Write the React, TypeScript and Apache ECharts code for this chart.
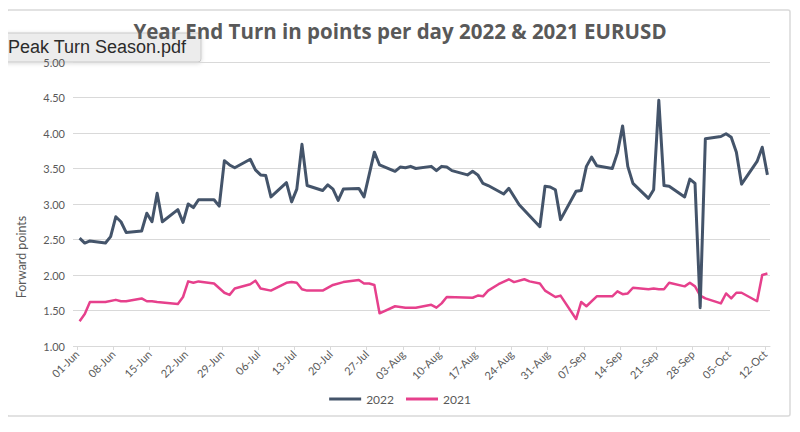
import React, { useEffect, useRef } from "react";
import * as echarts from "echarts";

// Axis starts on 1 June; positions are days since then.
const AXIS_START = "06-01";
const MONTHS = ["Jan", "Feb", "Mar", "Apr", "May", "Jun", "Jul", "Aug", "Sep", "Oct", "Nov", "Dec"];

const TITLE = "Year End Turn in points per day 2022 & 2021 EURUSD";
const Y_NAME = "Forward points";
const SERIES_NAMES = ["2022", "2021"];

const dates2022 = [
  "06-01", "06-02", "06-03", "06-06", "06-07", "06-08", "06-09", "06-10", "06-13", "06-14",
  "06-15", "06-16", "06-17", "06-20", "06-21", "06-22", "06-23", "06-24", "06-27", "06-28",
  "06-29", "06-30", "07-01", "07-04", "07-05", "07-06", "07-07", "07-08", "07-11", "07-12",
  "07-13", "07-14", "07-15", "07-18", "07-19", "07-20", "07-21", "07-22", "07-25", "07-26",
  "07-28", "07-29", "08-01", "08-02", "08-03", "08-04", "08-05", "08-08", "08-09", "08-10",
  "08-11", "08-12", "08-15", "08-16", "08-17", "08-18", "08-19", "08-22", "08-23", "08-25",
  "08-29", "08-30", "08-31", "09-01", "09-02", "09-05", "09-06", "09-07", "09-08", "09-09",
  "09-12", "09-13", "09-14", "09-15", "09-16", "09-19", "09-20", "09-21", "09-22", "09-23",
  "09-26", "09-27", "09-28", "09-29", "09-30", "10-03", "10-04", "10-05", "10-06", "10-07",
  "10-10", "10-11", "10-12",
];
const values2022 = [
  2.52, 2.45, 2.48, 2.45, 2.54, 2.82, 2.75, 2.6, 2.62, 2.87,
  2.75, 3.15, 2.75, 2.92, 2.74, 3.0, 2.95, 3.06, 3.06, 2.97,
  3.61, 3.55, 3.51, 3.63, 3.48, 3.41, 3.4, 3.1, 3.3, 3.03,
  3.21, 3.84, 3.26, 3.19, 3.27, 3.21, 3.05, 3.21, 3.22, 3.1,
  3.73, 3.55, 3.46, 3.52, 3.51, 3.53, 3.5, 3.53, 3.47, 3.53,
  3.52, 3.47, 3.41, 3.46, 3.41, 3.29, 3.26, 3.14, 3.22, 2.99,
  2.68, 3.25, 3.24, 3.2, 2.78, 3.18, 3.19, 3.53, 3.66, 3.54,
  3.5, 3.72, 4.1, 3.53, 3.29, 3.08, 3.2, 4.46, 3.26, 3.25,
  3.1, 3.35, 3.29, 1.54, 3.92, 3.95, 3.99, 3.94, 3.73, 3.28,
  3.6, 3.8, 3.41,
];

const dates2021 = [
  "06-01", "06-02", "06-03", "06-06", "06-08", "06-09", "06-10", "06-13", "06-14", "06-15",
  "06-16", "06-20", "06-21", "06-22", "06-23", "06-24", "06-27", "06-29", "06-30", "07-01",
  "07-04", "07-05", "07-06", "07-08", "07-11", "07-12", "07-13", "07-14", "07-15", "07-18",
  "07-20", "07-22", "07-25", "07-26", "07-27", "07-28", "07-29", "08-01", "08-03", "08-05",
  "08-08", "08-09", "08-10", "08-11", "08-16", "08-17", "08-18", "08-19", "08-21", "08-23",
  "08-24", "08-26", "08-27", "08-29", "08-30", "09-01", "09-02", "09-05", "09-06", "09-07",
  "09-09", "09-12", "09-13", "09-14", "09-15", "09-16", "09-19", "09-20", "09-21", "09-22",
  "09-23", "09-26", "09-27", "09-28", "09-29", "09-30", "10-03", "10-04", "10-05", "10-06",
  "10-07", "10-10", "10-11", "10-12",
];
const values2021 = [
  1.35, 1.45, 1.62, 1.62, 1.65, 1.63, 1.63, 1.67, 1.63, 1.63,
  1.62, 1.59, 1.69, 1.91, 1.89, 1.91, 1.88, 1.75, 1.72, 1.81,
  1.87, 1.92, 1.81, 1.78, 1.89, 1.9, 1.89, 1.8, 1.78, 1.78,
  1.86, 1.9, 1.93, 1.88, 1.88, 1.86, 1.46, 1.56, 1.54, 1.54,
  1.58, 1.54, 1.6, 1.69, 1.68, 1.71, 1.7, 1.78, 1.87, 1.94,
  1.9, 1.94, 1.91, 1.88, 1.78, 1.69, 1.71, 1.38, 1.62, 1.56,
  1.7, 1.7, 1.77, 1.73, 1.74, 1.82, 1.8, 1.81, 1.8, 1.8,
  1.89, 1.84, 1.89, 1.84, 1.71, 1.67, 1.6, 1.74, 1.67, 1.75,
  1.75, 1.63, 2.0, 2.02,
];

const X_MAX_DAYS = 134;
const X_STEP = 7;

const DAY_MS = 86400000;
const toUtc = (mmdd: string) => {
  const [m, d] = mmdd.split("-").map(Number);
  return Date.UTC(2022, m - 1, d);
};
const startUtc = toUtc(AXIS_START);
const dayOffset = (mmdd: string) => Math.round((toUtc(mmdd) - startUtc) / DAY_MS);

// Each day occupies one slot; the point sits in the middle of its slot.
const toPoints = (dates: string[], values: number[]) =>
  dates.map((d, i) => [dayOffset(d) + 0.5, values[i]]);

const dayLabel = (v: number) => {
  if (v % X_STEP !== 0 || v >= X_MAX_DAYS) return "";
  const dt = new Date(startUtc + v * DAY_MS);
  const dd = String(dt.getUTCDate()).padStart(2, "0");
  return `${dd}-${MONTHS[dt.getUTCMonth()]}`;
};

const FONT = "Lato, 'Open Sans', sans-serif";
const TITLE_FONT = "'Open Sans', Lato, sans-serif";
const GREY_TEXT = "#595959";
const GRID_GREY = "#d9d9d9";
const COLOR_2022 = "#44546a";
const COLOR_2021 = "#e6408c";

export default function App() {
  const ref = useRef<HTMLDivElement>(null);

  useEffect(() => {
    if (!ref.current) return;
    const chart = echarts.init(ref.current, undefined, { renderer: "svg" });
    chart.setOption({
      animation: false,
      backgroundColor: "#ffffff",
      textStyle: { fontFamily: FONT },
      title: {
        text: TITLE,
        left: "center",
        top: 15,
        textStyle: { fontFamily: TITLE_FONT, fontSize: 20.5, fontWeight: "bold", color: GREY_TEXT },
      },
      grid: { left: 77, right: 30, top: 62, bottom: 86, containLabel: false },
      xAxis: {
        type: "value",
        min: 0,
        max: X_MAX_DAYS,
        interval: X_STEP,
        axisLine: { show: true, lineStyle: { color: GRID_GREY, width: 1 } },
        axisTick: { show: true, length: 4, lineStyle: { color: GRID_GREY } },
        splitLine: { show: false },
        axisLabel: {
          rotate: 45,
          fontSize: 11,
          color: GREY_TEXT,
          margin: 6,
          showMaxLabel: false,
          formatter: (v: number) => dayLabel(v),
        },
      },
      yAxis: {
        type: "value",
        min: 1,
        max: 5,
        interval: 0.5,
        axisLine: { show: false },
        axisTick: { show: true, length: 4, lineStyle: { color: GRID_GREY } },
        splitLine: { show: true, lineStyle: { color: GRID_GREY, width: 1 } },
        axisLabel: {
          fontSize: 11,
          color: GREY_TEXT,
          margin: 12,
          formatter: (v: number) => v.toFixed(2),
        },
      },
      legend: {
        bottom: 22,
        left: "center",
        itemWidth: 32,
        itemHeight: 3,
        itemGap: 12,
        icon: "rect",
        textStyle: { fontSize: 12, color: GREY_TEXT, fontFamily: FONT },
        data: SERIES_NAMES,
      },
      series: [
        {
          name: SERIES_NAMES[0],
          type: "line",
          data: toPoints(dates2022, values2022),
          showSymbol: false,
          lineStyle: { color: COLOR_2022, width: 3, join: "round" },
          itemStyle: { color: COLOR_2022 },
          z: 3,
        },
        {
          name: SERIES_NAMES[1],
          type: "line",
          data: toPoints(dates2021, values2021),
          showSymbol: false,
          lineStyle: { color: COLOR_2021, width: 2.5, join: "round" },
          itemStyle: { color: COLOR_2021 },
          z: 2,
        },
      ],
      graphic: [
        {
          type: "rect",
          shape: { x: 7, y: 10, width: 783, height: 406, r: 2 },
          style: { fill: "none", stroke: GRID_GREY, lineWidth: 1.5 },
          silent: true,
          z: 0,
        },
        {
          type: "text",
          x: 21,
          y: 257,
          rotation: Math.PI / 2,
          style: {
            text: Y_NAME,
            fontSize: 12.5,
            fontFamily: FONT,
            fill: GREY_TEXT,
            align: "center",
            verticalAlign: "middle",
          },
          silent: true,
        },
        {
          type: "group",
          z: 100,
          children: [
            {
              type: "rect",
              shape: { x: -2, y: 33, width: 203, height: 29, r: 3 },
              style: {
                fill: "#ececec",
                stroke: "#c9c9c9",
                lineWidth: 1,
                shadowBlur: 4,
                shadowColor: "rgba(0,0,0,0.15)",
                shadowOffsetY: 1,
              },
            },
            {
              type: "text",
              x: 8,
              y: 47,
              style: {
                text: "Peak Turn Season.pdf",
                fontSize: 18,
                fontFamily: "'Liberation Sans', Arial, sans-serif",
                fill: "#2b2b2b",
                verticalAlign: "middle",
              },
            },
          ],
        },
      ],
    });
    return () => chart.dispose();
  }, []);

  return <div ref={ref} style={{ width: 800, height: 432, margin: -8 }} />;
}
